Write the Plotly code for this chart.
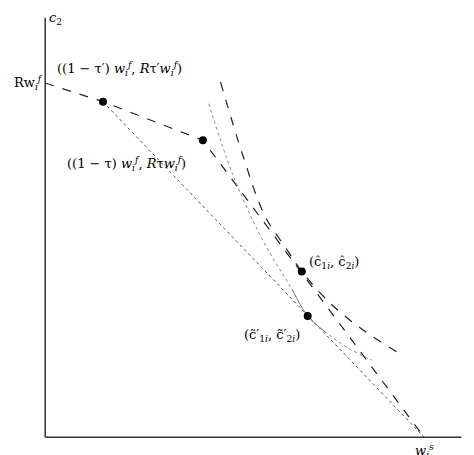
import plotly.graph_objects as go

# budget constraint (kinked) and points, in diagram units
budget_x = [0, 59, 161, 387]
budget_y = [359, 340, 301, 0]
dotted_x = [59, 387]
dotted_y = [340, 0]
# indifference curves
ic1_x = [179, 202, 224, 247, 262, 292, 327, 365]
ic1_y = [360, 285, 225, 190, 168, 135, 107, 83]
ic2_x = [167, 192, 222, 252, 268, 287, 310, 334]
ic2_y = [338, 265, 200, 150, 123, 106, 90, 78]
dots_x = [59, 161, 262, 268]
dots_y = [340, 301, 168, 123]

fig = go.Figure()
fig.add_trace(go.Scatter(x=budget_x, y=budget_y, mode="lines",
                         line=dict(color="#222", width=1.2, dash="dash")))
fig.add_trace(go.Scatter(x=dotted_x, y=dotted_y, mode="lines",
                         line=dict(color="#555", width=1, dash="dot")))
fig.add_trace(go.Scatter(x=ic1_x, y=ic1_y, mode="lines", line_shape="spline",
                         line=dict(color="#222", width=1.2, dash="dash")))
fig.add_trace(go.Scatter(x=ic2_x, y=ic2_y, mode="lines", line_shape="spline",
                         line=dict(color="#888", width=1, dash="dot")))
fig.add_trace(go.Scatter(x=ic2_x[3:6], y=ic2_y[3:6], mode="lines", line_shape="spline",
                         line=dict(color="#888", width=1)))
fig.add_trace(go.Scatter(x=dots_x, y=dots_y, mode="markers",
                         marker=dict(color="black", size=8)))

fnt = dict(family="DejaVu Serif", size=13, color="black")
notes = [
    (0, 359, "Rw<sub><i>i</i></sub><sup><i>f</i></sup>", "right", "middle"),
    (2, 435, "<i>c</i><sub>2</sub>", "left", "top"),
    (428, 0, "<i>c</i><sub>1</sub>", "left", "middle"),
    (387, -3, "<i>w</i><sub><i>i</i></sub><sup><i>s</i></sup>", "center", "top"),
    (10, 373, "((1 − τ′) <i>w</i><sub><i>i</i></sub><sup><i>f</i></sup>, <i>R</i>τ′<i>w</i><sub><i>i</i></sub><sup><i>f</i></sup>)", "left", "middle"),
    (20, 277, "((1 − τ) <i>w</i><sub><i>i</i></sub><sup><i>f</i></sup>, <i>R</i>τ<i>w</i><sub><i>i</i></sub><sup><i>f</i></sup>)", "left", "middle"),
    (267, 177, "(ĉ<sub>1<i>i</i></sub>, ĉ<sub>2<i>i</i></sub>)", "left", "middle"),
    (262, 103, "(c̃′<sub>1<i>i</i></sub>, c̃′<sub>2<i>i</i></sub>)", "right", "middle"),
]
for x, y, t, xa, ya in notes:
    fig.add_annotation(x=x, y=y, text=t, showarrow=False, xanchor=xa, yanchor=ya, font=fnt)

fig.add_shape(type="line", x0=0, y0=0, x1=0, y1=425, line=dict(color="#333", width=1.5))
fig.add_shape(type="line", x0=0, y0=0, x1=425, y1=0, line=dict(color="#333", width=1.5))

fig.update_layout(width=474, height=455, margin=dict(l=0, r=0, t=0, b=0),
                  plot_bgcolor="white", paper_bgcolor="white", showlegend=False)
fig.update_xaxes(range=[-38, 446], visible=False)
fig.update_yaxes(range=[-26, 435], visible=False)
fig.write_html("out.html")
